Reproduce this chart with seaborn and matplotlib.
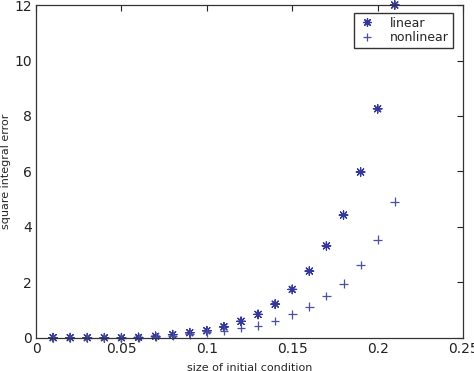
import numpy as np
import pandas as pd
import matplotlib
matplotlib.use("Agg")
import matplotlib.pyplot as plt
import seaborn as sns

# ---------------------------------------------------------
# data
# ---------------------------------------------------------
x_size = [0.01, 0.02, 0.03, 0.04, 0.05, 0.06, 0.07, 0.08, 0.09, 0.10, 0.11,
          0.12, 0.13, 0.14, 0.15, 0.16, 0.17, 0.18, 0.19, 0.20, 0.21]
err_linear = [0.01, 0.01, 0.01, 0.01, 0.01, 0.02, 0.06, 0.12, 0.19, 0.26, 0.40,
              0.60, 0.85, 1.22, 1.75, 2.41, 3.32, 4.43, 5.98, 8.26, 12.0]
err_nonlinear = [0.0, 0.0, 0.0, 0.0, 0.0, 0.0, 0.03, 0.07, 0.13, 0.20, 0.26,
                 0.36, 0.44, 0.61, 0.85, 1.13, 1.51, 1.96, 2.63, 3.54, 4.91]

df = pd.DataFrame({
    'x': x_size * 2,
    'err': err_linear + err_nonlinear,
    'model': ['linear'] * len(x_size) + ['nonlinear'] * len(x_size),
})

# ---------------------------------------------------------
# plot
# ---------------------------------------------------------
sns.set_style('white')
plt.rcParams['font.family'] = ['DejaVu Sans']

fig = plt.figure(figsize=(4.74, 3.71), dpi=100)
ax = fig.add_axes([0.076, 0.089, 0.901, 0.8975])

sns.scatterplot(
    data=df, x='x', y='err', style='model', hue='model',
    markers={'linear': (8, 2, 0), 'nonlinear': '+'},
    palette={'linear': '#34389a', 'nonlinear': '#4a4f9f'},
    s=38, linewidth=0.9, ax=ax, clip_on=False,
)

ax.set_xlim(0, 0.25)
ax.set_ylim(0, 12)
ax.set_xticks([0, 0.05, 0.1, 0.15, 0.2, 0.25])
ax.set_xticklabels(['0', '0.05', '0.1', '0.15', '0.2', '0.25'])
ax.set_yticks([0, 2, 4, 6, 8, 10, 12])
ax.tick_params(direction='in', length=4, width=0.8, top=True, right=True,
               labelsize=10, colors='#222222', pad=3)
for sp in ax.spines.values():
    sp.set_color('#333333')
    sp.set_linewidth(0.9)

ax.set_xlabel('size of initial condition', fontsize=8, labelpad=5)
ax.set_ylabel('square integral error', fontsize=8, labelpad=2)

ax.legend(loc='upper right', bbox_to_anchor=(0.99, 0.995), fontsize=9,
          frameon=True, fancybox=False, edgecolor='#333333', framealpha=1,
          borderpad=0.3, labelspacing=0.1, handlelength=1.6,
          handletextpad=1.0, title=None)

fig.savefig('out.png', dpi=100)
